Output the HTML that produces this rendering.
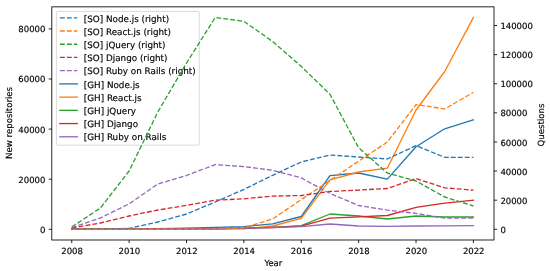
<!DOCTYPE html>
<html lang="en"><head><meta charset="utf-8"><title>New repositories vs. questions per year</title>
<style>html,body{margin:0;padding:0;background:#fff}body{width:550px;height:271px;overflow:hidden}svg{display:block}text{font-family:"DejaVu Sans","Liberation Sans",sans-serif;font-size:8.7px;fill:#000;stroke:#000;stroke-width:0.15px;text-rendering:geometricPrecision}.tk{font-size:8.5px}.al{font-size:8.6px}.lg{font-size:8.8px}</style></head><body>
<svg width="550" height="271" viewBox="0 0 550 271">
<rect width="550" height="271" fill="#fff"/>
<defs><clipPath id="ax"><rect x="51.8" y="6.85" width="442.2" height="233.15"/></clipPath></defs>
<g clip-path="url(#ax)" fill="none" stroke-width="1.32" stroke-linecap="square" stroke-linejoin="round">
<polyline points="71.75,229.20 100.44,229.20 129.13,229.10 157.82,228.70 186.51,228.20 215.20,227.40 243.89,226.60 272.58,223.80 301.27,216.50 329.96,175.60 358.65,173.00 387.34,179.10 416.03,146.80 444.72,128.80 473.41,119.80" stroke="#1f77b4"/>
<polyline points="71.75,229.30 100.44,229.30 129.13,229.30 157.82,229.30 186.51,229.30 215.20,229.30 243.89,228.90 272.58,226.00 301.27,218.30 329.96,179.80 358.65,172.00 387.34,168.20 416.03,110.00 444.72,71.50 473.41,17.40" stroke="#ff7f0e"/>
<polyline points="71.75,229.20 100.44,229.20 129.13,229.10 157.82,229.00 186.51,228.80 215.20,228.50 243.89,228.10 272.58,227.30 301.27,225.60 329.96,214.00 358.65,216.00 387.34,219.00 416.03,216.00 444.72,217.00 473.41,217.00" stroke="#2ca02c"/>
<polyline points="71.75,229.20 100.44,229.20 129.13,229.20 157.82,229.00 186.51,228.80 215.20,228.60 243.89,228.20 272.58,227.50 301.27,226.20 329.96,218.10 358.65,216.90 387.34,215.50 416.03,207.30 444.72,203.20 473.41,200.20" stroke="#d62728"/>
<polyline points="71.75,229.20 100.44,229.20 129.13,229.10 157.82,229.00 186.51,228.80 215.20,228.60 243.89,228.20 272.58,227.50 301.27,226.60 329.96,224.00 358.65,226.00 387.34,226.40 416.03,226.00 444.72,225.90 473.41,225.70" stroke="#9467bd"/>
</g>
<g stroke="#000" stroke-width="0.85" fill="none">
<line x1="71.75" y1="240.0" x2="71.75" y2="243.1"/>
<line x1="129.13" y1="240.0" x2="129.13" y2="243.1"/>
<line x1="186.51" y1="240.0" x2="186.51" y2="243.1"/>
<line x1="243.89" y1="240.0" x2="243.89" y2="243.1"/>
<line x1="301.27" y1="240.0" x2="301.27" y2="243.1"/>
<line x1="358.65" y1="240.0" x2="358.65" y2="243.1"/>
<line x1="416.03" y1="240.0" x2="416.03" y2="243.1"/>
<line x1="473.41" y1="240.0" x2="473.41" y2="243.1"/>
<line x1="51.8" y1="229.30" x2="48.699999999999996" y2="229.30"/>
<line x1="51.8" y1="179.20" x2="48.699999999999996" y2="179.20"/>
<line x1="51.8" y1="129.10" x2="48.699999999999996" y2="129.10"/>
<line x1="51.8" y1="79.00" x2="48.699999999999996" y2="79.00"/>
<line x1="51.8" y1="28.90" x2="48.699999999999996" y2="28.90"/>
</g>
<g text-anchor="middle">
<text class="tk" x="72.05" y="254">2008</text>
<text class="tk" x="129.43" y="254">2010</text>
<text class="tk" x="186.81" y="254">2012</text>
<text class="tk" x="244.19" y="254">2014</text>
<text class="tk" x="301.57" y="254">2016</text>
<text class="tk" x="358.95" y="254">2018</text>
<text class="tk" x="416.33" y="254">2020</text>
<text class="tk" x="473.71" y="254">2022</text>
</g>
<g text-anchor="end">
<text class="tk" x="45.40" y="233">0</text>
<text class="tk" x="45.40" y="183">20000</text>
<text class="tk" x="45.40" y="133">40000</text>
<text class="tk" x="45.40" y="82">60000</text>
<text class="tk" x="45.40" y="32">80000</text>
</g>
<text x="273.3" y="266" text-anchor="middle" style="font-size:8.4px">Year</text>
<text transform="translate(12.4 122.9) rotate(-90)" text-anchor="middle" class="al">New repositories</text>
<rect x="56.4" y="11.4" width="142.9" height="133.8" rx="1.7" ry="1.7" fill="#fff" fill-opacity="0.8" stroke="#ccc" stroke-opacity="0.8" stroke-width="0.88"/>
<line x1="59.9" y1="17.80" x2="77.30" y2="17.80" stroke="#1f77b4" stroke-width="1.32" stroke-linecap="butt" stroke-dasharray="4.88 2.11"/>
<text x="83.8" y="21.60" class="lg">[SO] Node.js (right)</text>
<line x1="59.9" y1="31.02" x2="77.30" y2="31.02" stroke="#ff7f0e" stroke-width="1.32" stroke-linecap="butt" stroke-dasharray="4.88 2.11"/>
<text x="83.8" y="34.79" class="lg">[SO] React.js (right)</text>
<line x1="59.9" y1="44.24" x2="77.30" y2="44.24" stroke="#2ca02c" stroke-width="1.32" stroke-linecap="butt" stroke-dasharray="4.88 2.11"/>
<text x="83.8" y="47.98" class="lg">[SO] jQuery (right)</text>
<line x1="59.9" y1="57.46" x2="77.30" y2="57.46" stroke="#d62728" stroke-width="1.32" stroke-linecap="butt" stroke-dasharray="4.88 2.11"/>
<text x="83.8" y="61.17" class="lg">[SO] Django (right)</text>
<line x1="59.9" y1="70.68" x2="77.30" y2="70.68" stroke="#9467bd" stroke-width="1.32" stroke-linecap="butt" stroke-dasharray="4.88 2.11"/>
<text x="83.8" y="74.36" class="lg">[SO] Ruby on Rails (right)</text>
<line x1="59.9" y1="83.90" x2="77.30" y2="83.90" stroke="#1f77b4" stroke-width="1.32" stroke-linecap="square"/>
<text x="83.8" y="87.55" class="lg">[GH] Node.js</text>
<line x1="59.9" y1="97.12" x2="77.30" y2="97.12" stroke="#ff7f0e" stroke-width="1.32" stroke-linecap="square"/>
<text x="83.8" y="100.74" class="lg">[GH] React.js</text>
<line x1="59.9" y1="110.34" x2="77.30" y2="110.34" stroke="#2ca02c" stroke-width="1.32" stroke-linecap="square"/>
<text x="83.8" y="113.93" class="lg">[GH] jQuery</text>
<line x1="59.9" y1="123.56" x2="77.30" y2="123.56" stroke="#d62728" stroke-width="1.32" stroke-linecap="square"/>
<text x="83.8" y="127.12" class="lg">[GH] Django</text>
<line x1="59.9" y1="136.78" x2="77.30" y2="136.78" stroke="#9467bd" stroke-width="1.32" stroke-linecap="square"/>
<text x="83.8" y="140.31" class="lg">[GH] Ruby on Rails</text>
<g clip-path="url(#ax)" fill="none" stroke-width="1.32" stroke-linecap="butt" stroke-linejoin="round" stroke-dasharray="4.88 2.11">
<polyline points="71.75,229.10 100.44,229.10 129.13,228.40 157.82,222.00 186.51,214.00 215.20,202.00 243.89,189.40 272.58,175.30 301.27,162.00 329.96,155.00 358.65,157.00 387.34,159.00 416.03,145.60 444.72,157.40 473.41,157.40" stroke="#1f77b4"/>
<polyline points="71.75,229.20 100.44,229.20 129.13,229.20 157.82,229.20 186.51,229.20 215.20,229.20 243.89,227.80 272.58,219.00 301.27,199.60 329.96,180.40 358.65,161.20 387.34,142.00 416.03,104.60 444.72,108.90 473.41,92.30" stroke="#ff7f0e"/>
<polyline points="71.75,227.00 100.44,208.00 129.13,171.00 157.82,112.00 186.51,63.00 215.20,17.50 243.89,21.30 272.58,41.50 301.27,66.40 329.96,94.30 358.65,147.80 387.34,173.00 416.03,181.00 444.72,197.00 473.41,206.00" stroke="#2ca02c"/>
<polyline points="71.75,228.00 100.44,223.00 129.13,216.00 157.82,210.00 186.51,205.40 215.20,200.20 243.89,198.80 272.58,196.10 301.27,195.50 329.96,191.50 358.65,190.10 387.34,188.50 416.03,178.60 444.72,187.80 473.41,190.20" stroke="#d62728"/>
<polyline points="71.75,227.60 100.44,218.00 129.13,203.90 157.82,184.00 186.51,175.50 215.20,164.60 243.89,166.60 272.58,170.20 301.27,177.90 329.96,193.40 358.65,205.50 387.34,210.10 416.03,213.40 444.72,218.20 473.41,218.20" stroke="#9467bd"/>
</g>
<g stroke="#000" stroke-width="0.85" fill="none">
<line x1="494.0" y1="229.30" x2="497.1" y2="229.30"/>
<line x1="494.0" y1="200.19" x2="497.1" y2="200.19"/>
<line x1="494.0" y1="171.07" x2="497.1" y2="171.07"/>
<line x1="494.0" y1="141.96" x2="497.1" y2="141.96"/>
<line x1="494.0" y1="112.84" x2="497.1" y2="112.84"/>
<line x1="494.0" y1="83.73" x2="497.1" y2="83.73"/>
<line x1="494.0" y1="54.62" x2="497.1" y2="54.62"/>
<line x1="494.0" y1="25.50" x2="497.1" y2="25.50"/>
</g>
<g text-anchor="start">
<text class="tk" x="500.40" y="232.90">0</text>
<text class="tk" x="500.40" y="203.79">20000</text>
<text class="tk" x="500.40" y="174.67">40000</text>
<text class="tk" x="500.40" y="145.56">60000</text>
<text class="tk" x="500.40" y="116.44">80000</text>
<text class="tk" x="500.40" y="87.33">100000</text>
<text class="tk" x="500.40" y="58.22">120000</text>
<text class="tk" x="500.40" y="29.10">140000</text>
</g>
<text transform="translate(543.6 125.0) rotate(-90)" text-anchor="middle" class="al">Questions</text>
<rect x="51.8" y="6.85" width="442.2" height="233.15" fill="none" stroke="#000" stroke-width="0.85"/>
</svg></body></html>
